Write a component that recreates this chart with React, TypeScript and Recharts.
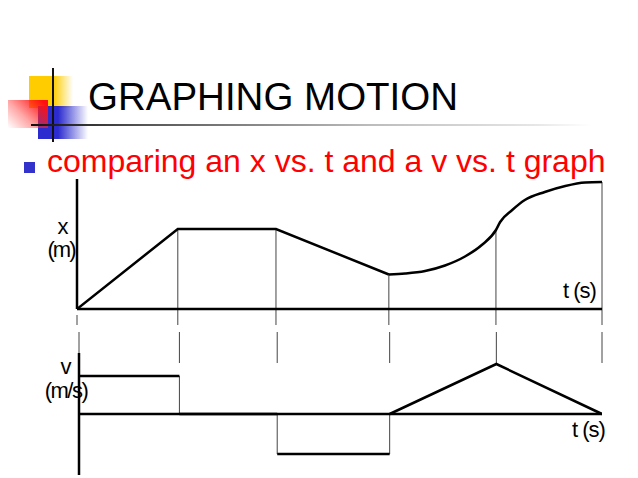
import { Line, LineChart, ReferenceLine, XAxis, YAxis } from "recharts";

// times where the motion changes (s)
const timeMarks = [0, 1.92, 3.79, 5.94, 7.98, 10];
// position at the first four marks (m), joined by straight lines
const positionLinear = [0, 8, 8, 3.45];
// speeding up, then slowing down
const curveTimes = [5.94, 6.25, 6.63, 7.01, 7.39, 7.71, 7.98, 8.06, 8.29, 8.53, 8.91, 9.3, 9.68, 10];
const curvePositions = [3.45, 3.55, 3.8, 4.35, 5.25, 6.4, 7.9, 8.7, 9.9, 10.9, 11.7, 12.3, 12.65, 12.7];
// constant velocity in the first three intervals (m/s)
const velocitySteps = [1.9, 0, -2.0];
// velocity at the last three marks (m/s)
const velocityRamp = [0, 2.5, 0];

const FONT = '"Liberation Sans", Arial, sans-serif';
const THICK = 2.5;
const GUIDE = "#444";

const linearData = positionLinear.map((x, i) => ({ t: timeMarks[i], x }));
const curveData = curveTimes.map((t, i) => ({ t, x: curvePositions[i] }));

const positionAt = (t: number, i: number) =>
  i < positionLinear.length ? positionLinear[i] : curvePositions[curveTimes.indexOf(t)];

// flat velocity pieces, broken with nulls so the jumps stay thin guide lines
const stepData = velocitySteps.flatMap((v, i) => [
  { t: timeMarks[i], v },
  { t: timeMarks[i + 1], v },
  { t: timeMarks[i + 1], v: null },
]);
const rampData = velocityRamp.map((v, i) => ({ t: timeMarks[i + 3], v }));
const velocityLevels = [...velocitySteps, velocityRamp[0]];

const label = (text: string, left: number, top: number, size = 22, extra = {}) => (
  <div
    style={{
      position: "absolute",
      left,
      top,
      fontFamily: FONT,
      fontSize: size,
      lineHeight: `${size}px`,
      whiteSpace: "nowrap",
      ...extra,
    }}
  >
    {text}
  </div>
);

const App = () => {
  return (
    <div
      style={{
        position: "fixed",
        left: 0,
        top: 0,
        width: 638,
        height: 478,
        background: "#fff",
        overflow: "hidden",
      }}
    >
      {/* title decoration */}
      <div style={{ position: "absolute", left: 29, top: 76, width: 44, height: 32, background: "linear-gradient(to right, #ffcc00 0%, #ffcc00 55%, rgba(255,204,0,0) 100%)" }} />
      <div style={{ position: "absolute", left: 38, top: 106, width: 50, height: 33, background: "linear-gradient(to right, #2b2bcf 0%, #2b2bcf 40%, rgba(43,43,207,0) 100%)" }} />
      <div style={{ position: "absolute", left: 8, top: 100, width: 40, height: 28, background: "linear-gradient(225deg, #ff1010 10%, rgba(255,60,60,0.45) 60%, rgba(255,255,255,0) 100%)" }} />
      <div style={{ position: "absolute", left: 52, top: 68, width: 2, height: 74, background: "#111" }} />
      <div style={{ position: "absolute", left: 31, top: 124, width: 560, height: 2, background: "linear-gradient(to right, #111 0%, #555 20%, #bbb 60%, #e6e6e6 90%, rgba(255,255,255,0) 100%)" }} />

      {label("GRAPHING MOTION", 88, 78, 38.5, { color: "#000" })}
      <div style={{ position: "absolute", left: 24, top: 162, width: 11, height: 11, background: "#3333cc" }} />
      {label("comparing an x vs. t and a v vs. t graph", 47, 145, 32, { color: "#ff0000" })}

      {/* axis names */}
      {label("x", 52, 216, 22, { width: 22, textAlign: "center" })}
      {label("(m)", 46, 239, 22, { width: 30, textAlign: "center", letterSpacing: -2 })}
      {label("t (s)", 563, 280, 22, { letterSpacing: -1 })}
      {label("v", 55, 356, 22, { width: 22, textAlign: "center" })}
      {label("(m/s)", 41, 380, 22, { width: 50, textAlign: "center", letterSpacing: -1.5 })}
      {label("t (s)", 572, 419, 22, { letterSpacing: -1 })}

      {/* x vs t */}
      <div style={{ position: "absolute", left: 0, top: 0 }}>
        <LineChart width={638} height={478} margin={{ top: 179, right: 36, bottom: 169, left: 77 }}>
          <XAxis type="number" dataKey="t" domain={[0, 10]} allowDataOverflow hide />
          <YAxis type="number" domain={[0, 13]} allowDataOverflow hide />
          {timeMarks.map((t, i) => (
            <ReferenceLine
              key={`xg${i}`}
              segment={[
                { x: t, y: i === 0 ? -0.6 : positionAt(t, i) },
                { x: t, y: -1.6 },
              ]}
              stroke={GUIDE}
              strokeWidth={1}
              ifOverflow="visible"
            />
          ))}
          <ReferenceLine y={0} stroke="#000" strokeWidth={THICK} />
          <ReferenceLine x={0} stroke="#000" strokeWidth={THICK} />
          <Line data={linearData} dataKey="x" type="linear" stroke="#000" strokeWidth={THICK} dot={false} isAnimationActive={false} />
          <Line data={curveData} dataKey="x" type="monotone" stroke="#000" strokeWidth={THICK} dot={false} isAnimationActive={false} />
        </LineChart>
      </div>

      {/* v vs t */}
      <div style={{ position: "absolute", left: 0, top: 0 }}>
        <LineChart width={638} height={478} margin={{ top: 353, right: 36, bottom: 3, left: 79 }}>
          <XAxis type="number" dataKey="t" domain={[0, 10]} allowDataOverflow hide />
          <YAxis type="number" domain={[-3.05, 3.05]} allowDataOverflow hide />
          {timeMarks.map((t, i) => (
            <ReferenceLine
              key={`vg${i}`}
              segment={[
                { x: t, y: 4.1 },
                { x: t, y: 2.55 },
              ]}
              stroke={GUIDE}
              strokeWidth={1}
              ifOverflow="visible"
            />
          ))}
          {velocityLevels.slice(1).map((v, i) => (
            <ReferenceLine
              key={`vj${i}`}
              segment={[
                { x: timeMarks[i + 1], y: velocityLevels[i] },
                { x: timeMarks[i + 1], y: v },
              ]}
              stroke={GUIDE}
              strokeWidth={1}
              ifOverflow="visible"
            />
          ))}
          <ReferenceLine y={0} stroke="#000" strokeWidth={THICK} />
          <ReferenceLine x={0} stroke="#000" strokeWidth={THICK} />
          <Line data={stepData} dataKey="v" type="linear" stroke="#000" strokeWidth={THICK} dot={false} connectNulls={false} isAnimationActive={false} />
          <Line data={rampData} dataKey="v" type="linear" stroke="#000" strokeWidth={THICK} dot={false} isAnimationActive={false} />
        </LineChart>
      </div>
    </div>
  );
};

export default App;
